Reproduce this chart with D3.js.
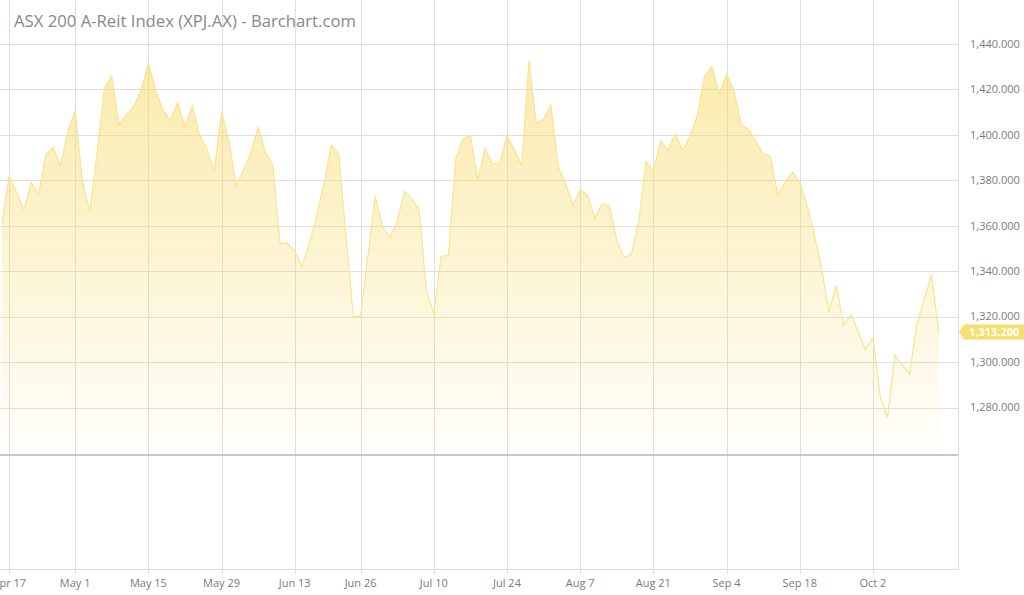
<!DOCTYPE html>
<html>
<head>
<meta charset="utf-8">
<script src="https://cdn.jsdelivr.net/npm/d3@7"></script>
<style>
  html, body { margin: 0; padding: 0; background: #fff; }
  svg { display: block; font-family: "Open Sans", "Noto Sans", sans-serif; }
</style>
</head>
<body>
<svg id="chart" width="1024" height="595"></svg>
<script>
// Daily closes, trading days from Apr 14 to Oct 13 (index = trading day)
const values = [
  1361.5, 1382.0, 1374.6, 1367.1, 1379.1, 1373.7, 1391.5, 1394.5, 1386.4, 1401.5,
  1410.6, 1379.5, 1365.9, 1392.0, 1420.5, 1425.9, 1404.3, 1408.8, 1412.5, 1419.4,
  1431.8, 1419.5, 1411.0, 1406.3, 1414.2, 1403.7, 1412.8, 1400.0, 1393.7, 1383.8,
  1410.3, 1397.1, 1377.6, 1384.4, 1392.0, 1403.4, 1392.3, 1386.7, 1352.2, 1352.2,
  1348.8, 1342.2, 1352.0, 1364.2, 1378.8, 1395.5, 1391.5, 1355.4, 1320.2, 1320.2,
  1347.0, 1372.9, 1359.5, 1354.8, 1362.0, 1375.1, 1371.8, 1367.1, 1331.0, 1321.4,
  1346.6, 1346.9, 1389.8, 1398.3, 1399.7, 1380.3, 1394.0, 1387.3, 1387.3, 1399.6,
  1393.4, 1386.4, 1432.7, 1405.2, 1406.9, 1413.2, 1385.7, 1378.8, 1369.0, 1375.9,
  1373.4, 1363.3, 1369.7, 1368.8, 1353.6, 1346.1, 1347.3, 1361.9, 1388.2, 1383.8,
  1397.5, 1393.1, 1400.5, 1393.1, 1399.3, 1408.4, 1425.9, 1430.0, 1418.3, 1426.8,
  1419.8, 1404.4, 1402.5, 1397.1, 1391.7, 1390.5, 1373.4, 1379.1, 1383.6, 1379.1,
  1368.9, 1356.1, 1340.7, 1322.1, 1333.7, 1316.3, 1320.9, 1313.2, 1305.6, 1310.7,
  1284.8, 1275.6, 1303.0, 1299.0, 1294.6, 1316.6, 1327.6, 1338.6, 1313.2
];
const xTickLabels = ["Apr 17","May 1","May 15","May 29","Jun 13","Jun 26","Jul 10","Jul 24","Aug 7","Aug 21","Sep 4","Sep 18","Oct 2"];
const xTickDays   = [1, 10, 20, 30, 40, 49, 59, 69, 79, 89, 99, 109, 119];
const yTicks      = [1280, 1300, 1320, 1340, 1360, 1380, 1400, 1420, 1440];
const lastValue   = 1313.2;
const title       = "ASX 200 A-Reit Index (XPJ.AX) - Barchart.com";

const svg = d3.select("#chart");
const plotRight = 958, paneBottom = 455, axisBottom = 569;

const x = d3.scaleLinear().domain([0, values.length - 1]).range([1.98, 938.8]);
const y = d3.scaleLinear().domain([1280, 1440]).range([407.5, 44]);

// gradient
const defs = svg.append("defs");
const grad = defs.append("linearGradient").attr("id", "fillGrad")
  .attr("gradientUnits", "userSpaceOnUse").attr("x1", 0).attr("x2", 0).attr("y1", 44).attr("y2", paneBottom);
grad.append("stop").attr("offset", "0").attr("stop-color", "#f7dc6f").attr("stop-opacity", 0.6);
grad.append("stop").attr("offset", "0.5").attr("stop-color", "#f7dc6f").attr("stop-opacity", 0.32);
grad.append("stop").attr("offset", "1").attr("stop-color", "#f7dc6f").attr("stop-opacity", 0.02);

// horizontal grid
svg.append("g").selectAll("line").data(yTicks).join("line")
  .attr("x1", 0).attr("x2", plotRight)
  .attr("y1", d => Math.round(y(d)) + 0.5).attr("y2", d => Math.round(y(d)) + 0.5)
  .attr("stroke", "#dedede").attr("stroke-width", 1);

// vertical grid
svg.append("g").selectAll("line").data(xTickDays).join("line")
  .attr("x1", d => Math.round(x(d)) + 0.5).attr("x2", d => Math.round(x(d)) + 0.5)
  .attr("y1", 0).attr("y2", axisBottom + 5)
  .attr("stroke", "#dedede").attr("stroke-width", 1);

// area
const area = d3.area().x((d, i) => x(i)).y0(paneBottom).y1(d => y(d));
svg.append("path").datum(values).attr("d", area).attr("fill", "url(#fillGrad)");
const line = d3.line().x((d, i) => x(i)).y(d => y(d));
svg.append("path").datum(values).attr("d", line)
  .attr("fill", "none").attr("stroke", "#f9e491").attr("stroke-width", 1.2);

// pane separator
svg.append("line").attr("x1", 0).attr("x2", plotRight).attr("y1", paneBottom).attr("y2", paneBottom)
  .attr("stroke", "#b4b4b4").attr("stroke-width", 1.5);

// bottom axis line & right axis line
svg.append("line").attr("x1", 0).attr("x2", plotRight + 0.5).attr("y1", axisBottom + 0.5).attr("y2", axisBottom + 0.5)
  .attr("stroke", "#dedede");
svg.append("line").attr("x1", plotRight + 0.5).attr("x2", plotRight + 0.5).attr("y1", 0).attr("y2", axisBottom + 0.5)
  .attr("stroke", "#dedede");

// x labels (first one is clipped by the left edge, as in the original)
svg.append("g").selectAll("text").data(xTickDays).join("text")
  .attr("x", d => x(d)).attr("y", 583).attr("dy", "0.35em")
  .attr("text-anchor", "middle").attr("font-size", 11).attr("fill", "#7a7a7a")
  .text((d, i) => xTickLabels[i]);

// y labels
svg.append("g").selectAll("text").data(yTicks).join("text")
  .attr("x", 970).attr("y", d => y(d)).attr("dy", "0.35em")
  .attr("font-size", 11).attr("fill", "#7a7a7a")
  .text(d => d3.format(",.3f")(d));

// last value badge
const ly = y(lastValue);
svg.append("path")
  .attr("d", `M959,${ly} L964,${ly - 7.5} L1024,${ly - 7.5} L1024,${ly + 7.5} L964,${ly + 7.5} Z`)
  .attr("fill", "#f7de70");
svg.append("text").attr("x", 969).attr("y", ly).attr("dy", "0.35em")
  .attr("font-size", 11).attr("font-weight", "bold").attr("fill", "#fff")
  .text(d3.format(",.3f")(lastValue));

// title
svg.append("text").attr("x", 14).attr("y", 21).attr("dy", "0.35em")
  .attr("font-size", 16.7).attr("fill", "#888888").text(title);
</script>
</body>
</html>
